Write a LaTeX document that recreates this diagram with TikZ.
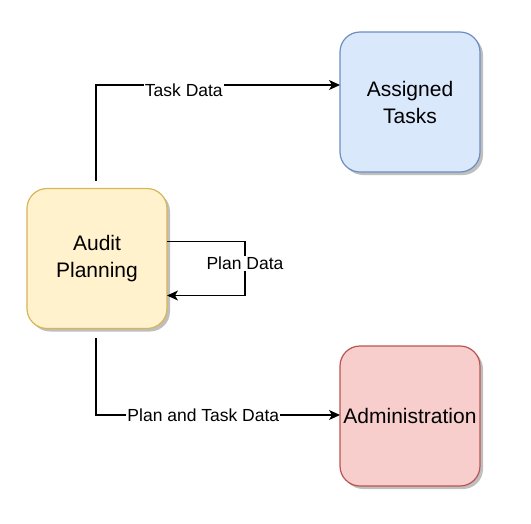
\documentclass[tikz,border=0pt]{standalone}
\usepackage{fontspec}
\setmainfont{Liberation Sans}
\usetikzlibrary{arrows.meta,positioning,shadows}

\tikzset{
  box/.style={draw,rounded corners=20pt,line width=1.2pt,minimum width=140pt,minimum height=140pt,
    inner sep=0pt,outer sep=0pt,align=center,font=\fontsize{21}{27}\selectfont,
    drop shadow={shadow xshift=3pt,shadow yshift=-3pt,fill=black!25,opacity=1}},
  flow/.style={line width=1.2pt,-{Stealth[length=11pt,width=10pt,inset=3pt]}},
  lbl/.style={fill=white,inner sep=1pt,font=\fontsize{17.5}{21}\selectfont}
}
\definecolor{planfill}{HTML}{FFF2CC}\definecolor{planline}{HTML}{D6B656}
\definecolor{taskfill}{HTML}{DAE8FC}\definecolor{taskline}{HTML}{6C8EBF}
\definecolor{admfill}{HTML}{F8CECC}\definecolor{admline}{HTML}{B85450}

\begin{document}
\begin{tikzpicture}[x=1pt,y=-1pt]
\useasboundingbox (0,0) rectangle (531,523);

\node[box,fill=planfill,draw=planline] (plan) at (97,258.5) {Audit\\Planning};
\node[box,fill=taskfill,draw=taskline] (assigned) at (410,102) {Assigned\\Tasks};
\node[box,fill=admfill,draw=admline] (admin) at (410,416) {Administration};

\coordinate (tStart) at (96,181);
\coordinate (bStart) at (96,338);

% flows
\draw[flow] (tStart) |- ([yshift=17pt]assigned.west) node[lbl,pos=0.68,yshift=-5pt] (lTask) {Task Data};
\draw[flow] (bStart) |- ([yshift=1pt]admin.west) node[lbl,pos=0.72] (lAdmin) {Plan and Task Data};

% loop
\draw[flow] ([yshift=17pt]plan.east) -- ++(78,0) |- ([yshift=-37pt]plan.east) node[lbl,pos=0.2] (lPlan) {Plan Data};

\end{tikzpicture}
\end{document}
